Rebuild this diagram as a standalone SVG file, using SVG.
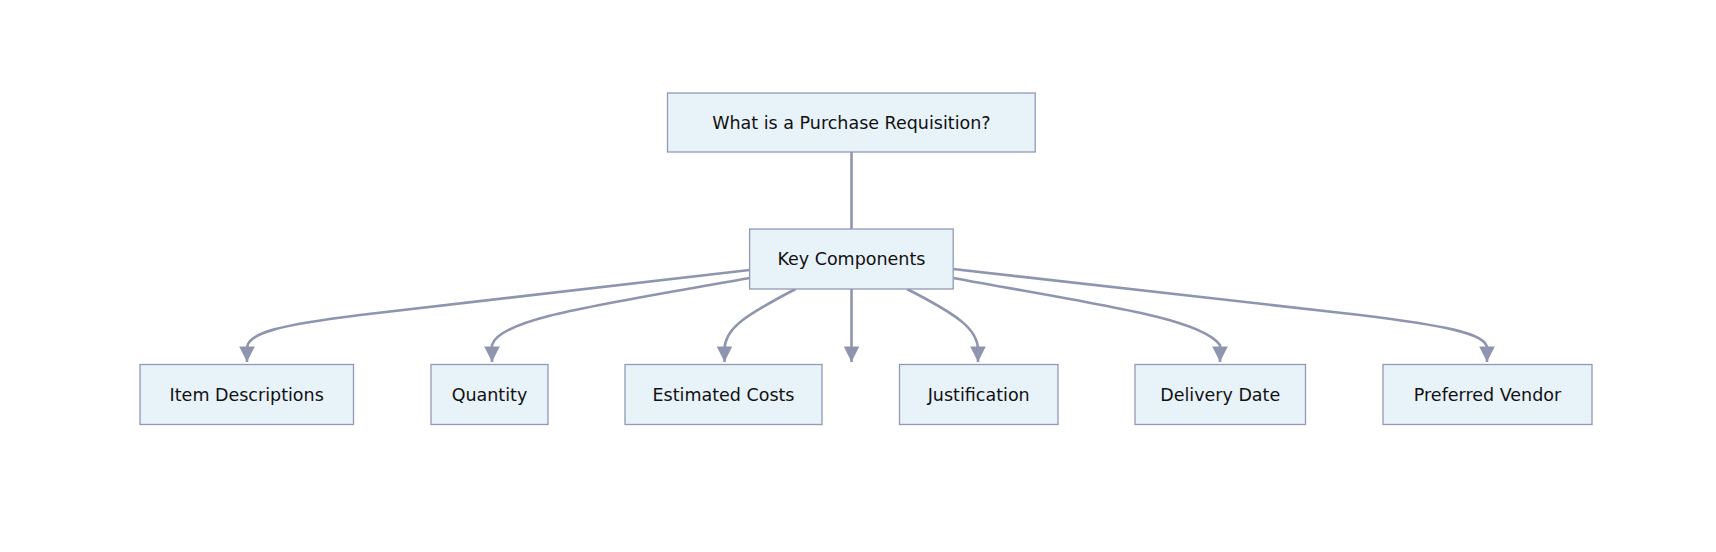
<svg xmlns="http://www.w3.org/2000/svg" width="1716" height="552" viewBox="0 0 1716 552">
<style>
.n rect{fill:#e8f2f9;stroke:#9399b4;stroke-width:1.3}
.n text{font-family:"DejaVu Sans",sans-serif;font-size:17.5px;fill:#111;text-anchor:middle;dominant-baseline:central}
.e path{fill:none;stroke:#8f95ae;stroke-width:2.6}
</style>
<defs><marker id="a" viewBox="0 0 10 10" refX="10" refY="5" markerWidth="6" markerHeight="6" markerUnits="strokeWidth" orient="auto"><path d="M0,0L10,5L0,10z" fill="#8f95ae"/></marker></defs>
<rect width="1716" height="552" fill="#fff"/>
<g class="e">
<path d="M851.5,152V362" marker-end="url(#a)"/>
<path d="M749.6,270L360,315C280,325 247,333 247,348V362" marker-end="url(#a)"/>
<path d="M749.6,278C600,305 500,318 492,345V362" marker-end="url(#a)"/>
<path d="M795.6,289C740,318 724.5,330 724.5,350V362" marker-end="url(#a)"/>
<path d="M907,289C960,316 978,330 978,350V362" marker-end="url(#a)"/>
<path d="M953,278C1100,305 1200,318 1220,345V362" marker-end="url(#a)"/>
<path d="M953,269L1360,315C1440,325 1487,333 1487,348V362" marker-end="url(#a)"/>
</g>
<g id="top" class="n"><rect x="667.5" y="93" width="367.7" height="59"/><text x="851.4" y="122.5">What is a Purchase Requisition?</text></g>
<g id="key" class="n"><rect x="749.6" y="229" width="203.6" height="60"/><text x="851.4" y="259">Key Components</text></g>
<g id="item" class="n"><rect x="140" y="364.5" width="213.5" height="60"/><text x="246.7" y="394.5">Item Descriptions</text></g>
<g id="qty" class="n"><rect x="431" y="364.5" width="117" height="60"/><text x="489.5" y="394.5">Quantity</text></g>
<g id="cost" class="n"><rect x="625" y="364.5" width="197" height="60"/><text x="723.5" y="394.5">Estimated Costs</text></g>
<g id="just" class="n"><rect x="899.5" y="364.5" width="158.5" height="60"/><text x="978.7" y="394.5">Justification</text></g>
<g id="date" class="n"><rect x="1135" y="364.5" width="170.5" height="60"/><text x="1220.2" y="394.5">Delivery Date</text></g>
<g id="vendor" class="n"><rect x="1383" y="364.5" width="209" height="60"/><text x="1487.5" y="394.5">Preferred Vendor</text></g>
</svg>
